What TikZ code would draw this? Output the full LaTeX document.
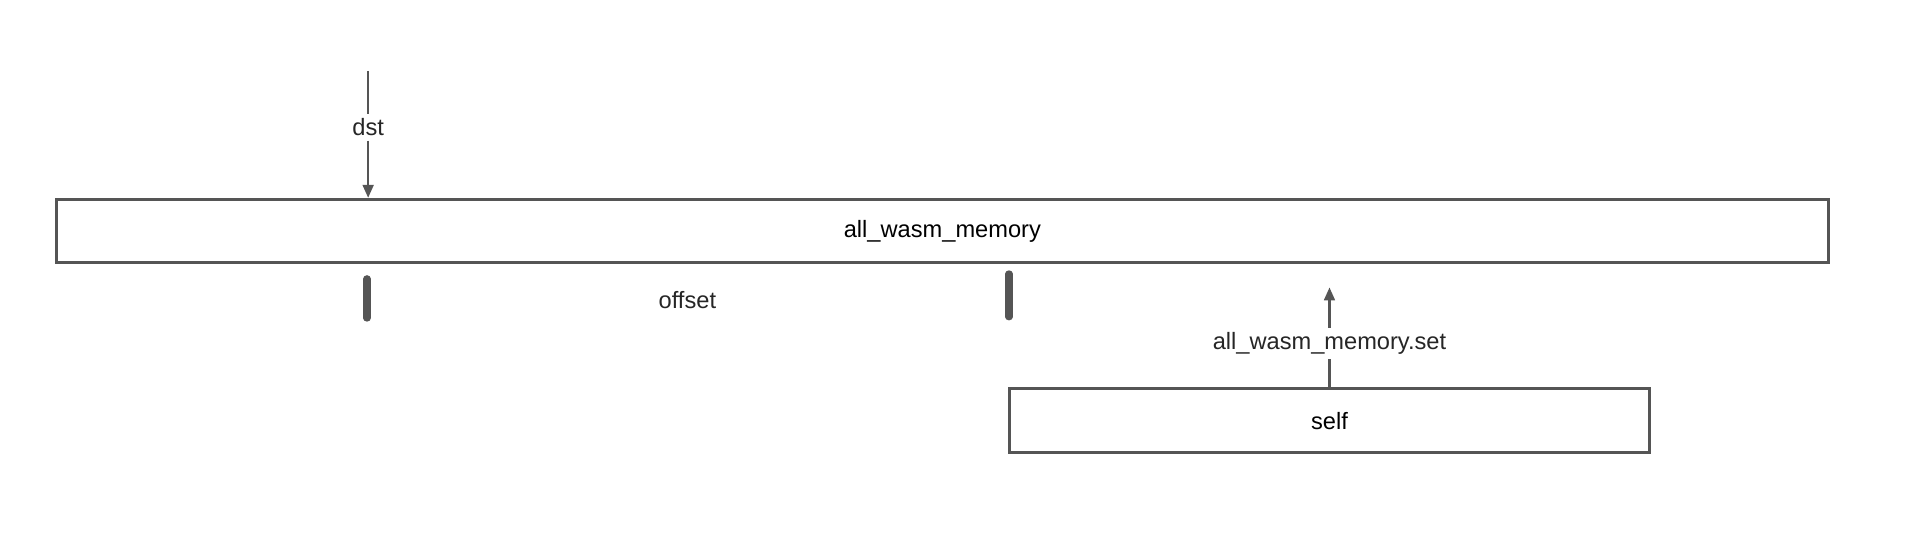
\documentclass[tikz,border=0pt]{standalone}
\usepackage{fontspec}
\setmainfont{Liberation Sans}
\usetikzlibrary{arrows.meta}
\definecolor{ln}{HTML}{555555}
\begin{document}
\begin{tikzpicture}[x=0.2mm,y=-0.2mm,
  box/.style={draw=ln,line width=1.4pt,minimum height=52*0.2mm,inner sep=0pt},
  lbl/.style={font=\fontsize{11}{13}\selectfont,text=black!85,fill=white,inner sep=2pt},
  arr/.style={draw=ln,line width=1.1pt,-{Triangle[length=6pt,width=5pt]}},
  tick/.style={draw=ln,line width=3.4pt,line cap=round}]
\useasboundingbox (0,0) rectangle (1560,440);
\node[box,minimum width=1449*0.2mm] (mem) at (770.5,189) {\fontsize{11}{13}\selectfont all\_wasm\_memory};
\node[box,minimum width=524*0.2mm] (self) at (1087,344) {\fontsize{11}{13}\selectfont self};
\coordinate (dtop) at (301,58);
\node[lbl] (dst) at (301,104) {dst};
\draw[draw=ln,line width=1.1pt] (dtop) -- (dst);
\draw[arr] (dst) -- (mem.north -| dst);
\node[lbl] (set) at (1087,281) {all\_wasm\_memory.set};
\coordinate (sethead) at (1087,235);
\draw[draw=ln,line width=1.1pt] (self.north -| set) -- (set);
\draw[arr] (set) -- (sethead);
\coordinate (m1a) at (300,228); \coordinate (m1b) at (300,260);
\coordinate (m2a) at (825,224); \coordinate (m2b) at (825,259);
\draw[tick] (m1a) -- (m1b);
\draw[tick] (m2a) -- (m2b);
\node[lbl] (off) at (562,245) {offset};
\end{tikzpicture}
\end{document}
